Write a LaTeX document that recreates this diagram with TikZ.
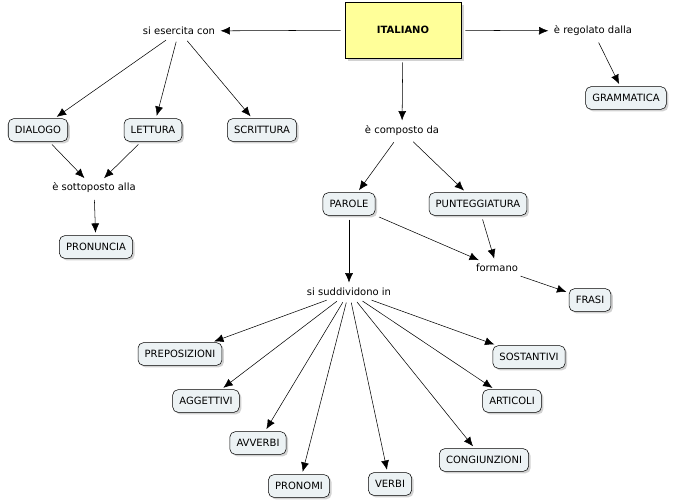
\documentclass[tikz,border=0pt]{standalone}
\usepackage{fontspec}
\setmainfont{DejaVu Sans}
\usetikzlibrary{positioning,arrows.meta,shadows}
\definecolor{CmapBox}{RGB}{236,242,244}
\definecolor{CmapRoot}{RGB}{255,255,153}

\begin{document}
\begin{tikzpicture}[x=0.75pt,y=-0.75pt,
    % concetti
    concept/.style={draw=black, fill=CmapBox, rounded corners=4pt, font=\fontsize{7.5}{9}\selectfont,
        minimum height=17pt, inner xsep=5pt, drop shadow={shadow xshift=1.5pt, shadow yshift=-1.5pt, fill=gray!70}},
    root/.style={draw=black, fill=CmapRoot, font=\bfseries\fontsize{7.5}{9}\selectfont,
        minimum width=87pt, minimum height=42pt, drop shadow={shadow xshift=2pt, shadow yshift=-2pt, fill=gray!70}},
    % frasi legame
    link/.style={font=\fontsize{7.5}{9}\selectfont, inner sep=2pt},
    arr/.style={-{Latex[length=7pt,width=6pt]}, draw=black, shorten <=3pt, shorten >=2pt}
  ]
  \useasboundingbox (0,0) rectangle (678,501);

  % --- CONCETTI ---
  \node[root] (ita) at (403,30) {ITALIANO};
  \node[concept] (gram) at (626,98) {GRAMMATICA};
  \node[concept] (dial) at (38,130) {DIALOGO};
  \node[concept] (lett) at (153,130) {LETTURA};
  \node[concept] (scri) at (262,130) {SCRITTURA};
  \node[concept] (pron) at (96,247) {PRONUNCIA};
  \node[concept] (paro) at (349,204) {PAROLE};
  \node[concept] (punt) at (478,204) {PUNTEGGIATURA};
  \node[concept] (fras) at (590,300) {FRASI};
  \node[concept] (prep) at (180,354) {PREPOSIZIONI};
  \node[concept] (agge) at (206,401) {AGGETTIVI};
  \node[concept] (avve) at (258,443) {AVVERBI};
  \node[concept] (prno) at (299,486) {PRONOMI};
  \node[concept] (verb) at (390,484) {VERBI};
  \node[concept] (cong) at (484,460) {CONGIUNZIONI};
  \node[concept] (arti) at (512,401) {ARTICOLI};
  \node[concept] (sost) at (529,357) {SOSTANTIVI};

  % --- FRASI LEGAME ---
  \node[link] (eser) at (179,31) {si esercita con};
  \node[link] (rego) at (593,31) {è regolato dalla};
  \node[link] (comp) at (402,131) {è composto da};
  \node[link] (sott) at (94,188) {è sottoposto alla};
  \node[link] (form) at (497,268) {formano};
  \node[link] (sudd) at (349,292) {si suddividono in};

  % --- COLLEGAMENTI ---
  \draw[arr] (ita) -- (eser);
  \draw[arr] (ita) -- (rego);
  \draw[arr] (ita) -- (comp);
  \draw[arr] (rego) -- (gram);
  \foreach \t in {dial,lett,scri} \draw[arr] (eser) -- (\t);
  \draw[arr] (dial) -- (sott);
  \draw[arr] (lett) -- (sott);
  \draw[arr] (sott) -- (pron);
  \draw[arr] (comp) -- (paro);
  \draw[arr] (comp) -- (punt);
  \draw[arr] (paro) -- (sudd);
  \draw[arr] (paro) -- (form);
  \draw[arr] (punt) -- (form);
  \draw[arr] (form) -- (fras);
  \foreach \t in {prep,agge,avve,prno,verb,cong,arti,sost} \draw[arr] (sudd) -- (\t);
\end{tikzpicture}
\end{document}
